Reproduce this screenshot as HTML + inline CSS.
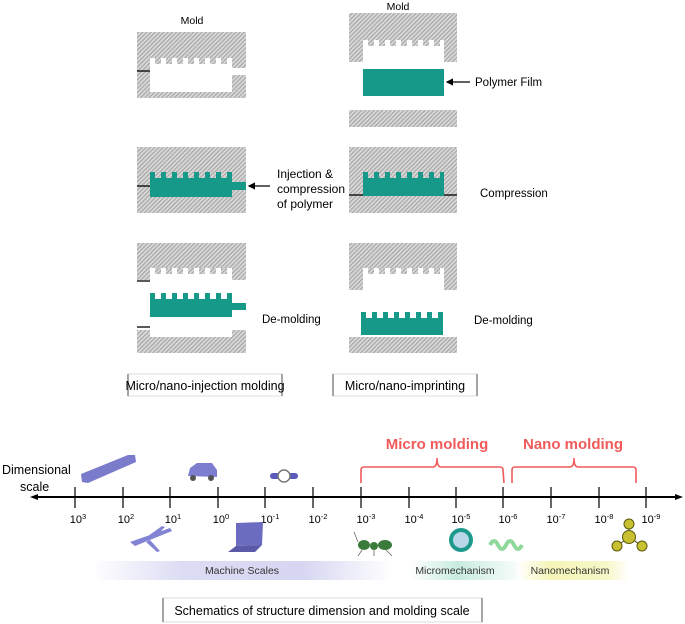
<!DOCTYPE html>
<html><head><meta charset="utf-8"><style>
html,body{margin:0;padding:0;background:#fff;}
svg{display:block;font-family:"Liberation Sans",Arial,sans-serif;}
</style></head><body>
<svg width="685" height="624" viewBox="0 0 685 624" xmlns="http://www.w3.org/2000/svg">
<defs>
<pattern id="h" width="3" height="3" patternUnits="userSpaceOnUse" patternTransform="rotate(45)">
<rect width="3" height="3" fill="#d8d8d8"/><rect width="1.1" height="3" fill="#a4a4a4"/>
</pattern>
<g id="gaps">
<rect x="5" y="0" width="6" height="6"/><rect x="16" y="0" width="6" height="6"/><rect x="27" y="0" width="6" height="6"/><rect x="38" y="0" width="6" height="6"/><rect x="49" y="0" width="6" height="6"/><rect x="60" y="0" width="6" height="6"/><rect x="71" y="0" width="6" height="6"/>
</g>
<linearGradient id="gm" x1="0" x2="1"><stop offset="0" stop-color="#fff"/><stop offset="0.3" stop-color="#dcdcf4"/><stop offset="0.7" stop-color="#d6d6f2"/><stop offset="1" stop-color="#fff"/></linearGradient>
<linearGradient id="gt" x1="0" x2="1"><stop offset="0" stop-color="#fff"/><stop offset="0.4" stop-color="#c8ecdf"/><stop offset="1" stop-color="#fff"/></linearGradient>
<linearGradient id="gy" x1="0" x2="1"><stop offset="0" stop-color="#fff"/><stop offset="0.3" stop-color="#f5f5b8"/><stop offset="0.8" stop-color="#f7f7c8"/><stop offset="1" stop-color="#fff"/></linearGradient>
<marker id="ar" markerWidth="6" markerHeight="6" refX="5" refY="3" orient="auto"><path d="M0,0 L6,3 L0,6 Z" fill="#000"/></marker>
</defs>

<!-- Left col -->
<text x="192" y="24" font-size="10.5" text-anchor="middle">Mold</text>
<rect x="137" y="32" width="109" height="66" fill="url(#h)"/>
<rect x="150" y="58" width="82" height="34" fill="#fff"/>
<use href="#gaps" transform="translate(150,58)" fill="url(#h)"/>
<rect x="232" y="68" width="14" height="7" fill="#fff"/>
<line x1="137" y1="71" x2="150" y2="71" stroke="#000" stroke-width="1.3"/>

<rect x="137" y="147" width="109" height="66" fill="url(#h)"/>
<rect x="150" y="172" width="82" height="25" fill="#17998a"/>
<use href="#gaps" transform="translate(150,172)" fill="url(#h)"/>
<rect x="232" y="182" width="14" height="8" fill="#17998a"/>
<line x1="137" y1="186" x2="150" y2="186" stroke="#000" stroke-width="1.3"/>
<line x1="270" y1="186" x2="249" y2="186" stroke="#000" stroke-width="1.2" marker-end="url(#ar)"/>
<text font-size="12" x="277" y="178">Injection &amp;</text>
<text font-size="12" x="277" y="193">compression</text>
<text font-size="12" x="277" y="208">of polymer</text>

<rect x="137" y="243" width="109" height="37" fill="url(#h)"/>
<rect x="150" y="268" width="82" height="12" fill="#fff"/>
<use href="#gaps" transform="translate(150,268)" fill="url(#h)"/>
<line x1="137" y1="281" x2="150" y2="281" stroke="#000" stroke-width="1.3"/>
<rect x="150" y="293" width="82" height="24" fill="#17998a"/>
<use href="#gaps" transform="translate(150,293)" fill="#fff"/>
<rect x="232" y="303" width="14" height="7" fill="#17998a"/>
<line x1="137" y1="327" x2="150" y2="327" stroke="#000" stroke-width="1.3"/>
<rect x="137" y="330" width="109" height="23" fill="url(#h)"/>
<rect x="150" y="330" width="82" height="7" fill="#fff"/>
<text font-size="11.5" x="262" y="323">De-molding</text>

<!-- Right col -->
<text x="398" y="10" font-size="10.5" text-anchor="middle">Mold</text>
<rect x="349" y="13" width="108" height="49" fill="url(#h)"/>
<rect x="363" y="40" width="81" height="22" fill="#fff"/>
<use href="#gaps" transform="translate(363,40)" fill="url(#h)"/>
<rect x="363" y="69" width="81" height="27" fill="#17998a"/>
<line x1="470" y1="82" x2="447" y2="82" stroke="#000" stroke-width="1.2" marker-end="url(#ar)"/>
<text font-size="11.5" x="475" y="86">Polymer Film</text>
<rect x="349" y="110" width="108" height="17" fill="url(#h)"/>

<rect x="349" y="147" width="108" height="66" fill="url(#h)"/>
<rect x="363" y="172" width="81" height="24" fill="#17998a"/>
<use href="#gaps" transform="translate(363,172)" fill="url(#h)"/>
<line x1="349" y1="195" x2="363" y2="195" stroke="#000" stroke-width="1.3"/>
<line x1="444" y1="195" x2="457" y2="195" stroke="#000" stroke-width="1.3"/>
<text font-size="11.5" x="480" y="197">Compression</text>

<rect x="349" y="243" width="108" height="47" fill="url(#h)"/>
<rect x="363" y="268" width="81" height="22" fill="#fff"/>
<use href="#gaps" transform="translate(363,268)" fill="url(#h)"/>
<rect x="361" y="312" width="82" height="23" fill="#17998a"/>
<use href="#gaps" transform="translate(361,312)" fill="#fff"/>
<rect x="349" y="337" width="108" height="16" fill="url(#h)"/>
<text font-size="11.5" x="474" y="324">De-molding</text>

<!-- label boxes -->
<rect x="128" y="374" width="154" height="22" fill="#fff" stroke="#ddd"/>
<line x1="128" y1="374" x2="128" y2="396" stroke="#888" stroke-width="1.5"/><line x1="282" y1="374" x2="282" y2="396" stroke="#888" stroke-width="1.5"/>
<text x="205" y="390" font-size="12.5" text-anchor="middle">Micro/nano-injection molding</text>
<rect x="333" y="374" width="144" height="22" fill="#fff" stroke="#ddd"/>
<line x1="333" y1="374" x2="333" y2="396" stroke="#888" stroke-width="1.5"/><line x1="477" y1="374" x2="477" y2="396" stroke="#888" stroke-width="1.5"/>
<text x="405" y="390" font-size="12.5" text-anchor="middle">Micro/nano-imprinting</text>

<!-- scale -->
<text x="2" y="474" font-size="12.5">Dimensional</text>
<text x="20" y="491" font-size="12.5">scale</text>
<line x1="34" y1="497" x2="678" y2="497" stroke="#000" stroke-width="2"/>
<path d="M30,497 L38,494 L38,500Z M683,497 L675,494 L675,500Z" fill="#000"/>
<g stroke="#000" stroke-width="1.2">
<line x1="75" y1="487" x2="75" y2="508"/><line x1="123" y1="487" x2="123" y2="508"/><line x1="170" y1="487" x2="170" y2="508"/><line x1="218" y1="487" x2="218" y2="508"/><line x1="265" y1="487" x2="265" y2="508"/><line x1="313" y1="487" x2="313" y2="508"/><line x1="361" y1="487" x2="361" y2="508"/><line x1="409" y1="487" x2="409" y2="508"/><line x1="456" y1="487" x2="456" y2="508"/><line x1="503" y1="487" x2="503" y2="508"/><line x1="551" y1="487" x2="551" y2="508"/><line x1="599" y1="487" x2="599" y2="508"/><line x1="646" y1="487" x2="646" y2="508"/>
</g>
<g font-size="11" text-anchor="middle">
<text x="78" y="523">10<tspan font-size="7.5" dy="-4">3</tspan></text>
<text x="126" y="523">10<tspan font-size="7.5" dy="-4">2</tspan></text>
<text x="173" y="523">10<tspan font-size="7.5" dy="-4">1</tspan></text>
<text x="221" y="523">10<tspan font-size="7.5" dy="-4">0</tspan></text>
<text x="270" y="523">10<tspan font-size="7.5" dy="-4">-1</tspan></text>
<text x="318" y="523">10<tspan font-size="7.5" dy="-4">-2</tspan></text>
<text x="366" y="523">10<tspan font-size="7.5" dy="-4">-3</tspan></text>
<text x="414" y="523">10<tspan font-size="7.5" dy="-4">-4</tspan></text>
<text x="461" y="523">10<tspan font-size="7.5" dy="-4">-5</tspan></text>
<text x="508" y="523">10<tspan font-size="7.5" dy="-4">-6</tspan></text>
<text x="556" y="523">10<tspan font-size="7.5" dy="-4">-7</tspan></text>
<text x="604" y="523">10<tspan font-size="7.5" dy="-4">-8</tspan></text>
<text x="651" y="523">10<tspan font-size="7.5" dy="-4">-9</tspan></text>
</g>

<!-- brackets -->
<g fill="none" stroke="#f05a5a" stroke-width="1.6">
<path d="M361,483 L361,470 Q361,467 364,467 L433,467 Q437,467 437,458 Q437,467 441,467 L500,467 Q503,467 503,470 L504,483"/>
<path d="M512,483 L512,470 Q512,467 515,467 L570,467 Q574,467 574,458 Q574,467 578,467 L633,467 Q636,467 636,470 L636,483"/>
</g>
<text x="437" y="449" font-size="15" font-weight="bold" fill="#f05a5a" text-anchor="middle">Micro molding</text>
<text x="573" y="449" font-size="15" font-weight="bold" fill="#f05a5a" text-anchor="middle">Nano molding</text>

<!-- icons -->
<path d="M81,474 L128,455 L135,455 L136,462 L88,483 L82,482 Z" fill="#7b7bcc"/>
<path d="M188,476 L190,468 L197,463 L212,463 L217,470 L217,477 Z" fill="#7e7ed0"/>
<circle cx="193" cy="478" r="3" fill="#555"/><circle cx="211" cy="478" r="3" fill="#555"/>
<rect x="270" y="473" width="28" height="6" rx="3" fill="#5a5ab8"/>
<circle cx="284" cy="476" r="6" fill="#fff" stroke="#777" stroke-width="1.5"/>
<path d="M130,542 L170,528 L172,531 L135,546 Z M148,536 L162,526 L165,527 L154,538 Z M150,540 L160,551 L157,552 L146,542 Z" fill="#8383d4"/>
<path d="M236,523 L263,522 L262,545 L236,546 Z" fill="#6b6bbf"/>
<path d="M228,552 L236,546 L262,545 L255,552 Z" fill="#5a5aa8"/>
<ellipse cx="364" cy="545" rx="6" ry="5" fill="#3a7a3a"/><ellipse cx="374" cy="546" rx="4" ry="4" fill="#3a7a3a"/><ellipse cx="385" cy="545" rx="7" ry="5" fill="#3a7a3a"/>
<g stroke="#666" stroke-width="0.8"><line x1="362" y1="550" x2="358" y2="556"/><line x1="374" y1="550" x2="374" y2="556"/><line x1="386" y1="550" x2="392" y2="556"/><line x1="358" y1="542" x2="354" y2="532"/></g>
<circle cx="461" cy="540" r="12" fill="#1d9a8c"/><circle cx="461" cy="540" r="8" fill="#b8d8e8"/>
<path d="M490,545 q4,-8 8,0 q4,8 8,0 q4,-8 8,0 q4,8 8,0" fill="none" stroke="#8ed89a" stroke-width="4"/>
<g stroke="#4a4a10" stroke-width="1"><line x1="629" y1="537" x2="629" y2="524"/><line x1="629" y1="537" x2="617" y2="546"/><line x1="629" y1="537" x2="642" y2="546"/></g>
<circle cx="629" cy="524" r="5" fill="#c8c030" stroke="#5a5a10"/><circle cx="629" cy="537" r="6.5" fill="#c8c030" stroke="#5a5a10"/><circle cx="617" cy="546" r="5" fill="#c8c030" stroke="#5a5a10"/><circle cx="642" cy="546" r="5" fill="#c8c030" stroke="#5a5a10"/>

<!-- bars -->
<rect x="92" y="561" width="300" height="19" fill="url(#gm)"/>
<text x="242" y="574" font-size="10.5" text-anchor="middle" fill="#333">Machine Scales</text>
<rect x="410" y="561" width="118" height="19" fill="url(#gt)"/>
<text x="455" y="574" font-size="10.5" text-anchor="middle" fill="#333">Micromechanism</text>
<rect x="517" y="561" width="112" height="19" fill="url(#gy)"/>
<text x="570" y="574" font-size="10.5" text-anchor="middle" fill="#333">Nanomechanism</text>

<rect x="163" y="598" width="319" height="24" fill="#fff" stroke="#ddd"/>
<line x1="163" y1="598" x2="163" y2="622" stroke="#888" stroke-width="1.5"/><line x1="482" y1="598" x2="482" y2="622" stroke="#888" stroke-width="1.5"/>
<text x="322" y="615" font-size="12.5" text-anchor="middle">Schematics of structure dimension and molding scale</text>
</svg>
</body></html>
